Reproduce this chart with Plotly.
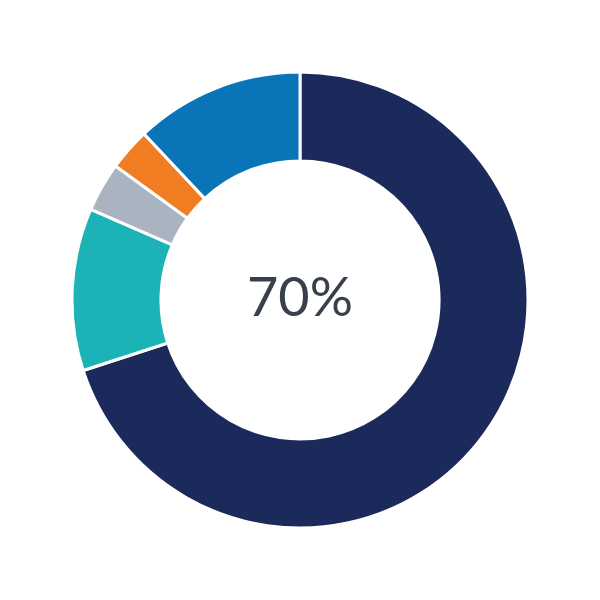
import plotly.graph_objects as go

# slices, clockwise from 12 o'clock
labels = ["Navy", "Teal", "Gray", "Orange", "Blue"]
values = [70, 11.5, 3.5, 3, 12]
colors = ["#1b2a5b", "#1bb3b5", "#aab4c0", "#f07d22", "#0a74b8"]
center_text = "70%"

fig = go.Figure(go.Pie(
  labels=labels,
  values=values,
  hole=0.61,
  sort=False,
  direction="clockwise",
  rotation=0,
  marker=dict(colors=colors, line=dict(color="white", width=3)),
  textinfo="none",
  hoverinfo="label+percent",
  showlegend=False,
))

# the page body adds an 8px offset, so shift the domain up/left a bit
fig.update_layout(
  width=600, height=600,
  margin=dict(l=64, r=80, t=64, b=80),
  paper_bgcolor="white",
  annotations=[dict(
    text=center_text, x=0.5, y=0.5, xref="paper", yref="paper",
    showarrow=False, yshift=5,
    font=dict(family="Lato", size=54, color="#38414b"),
  )],
)

fig.write_html("out.html")
